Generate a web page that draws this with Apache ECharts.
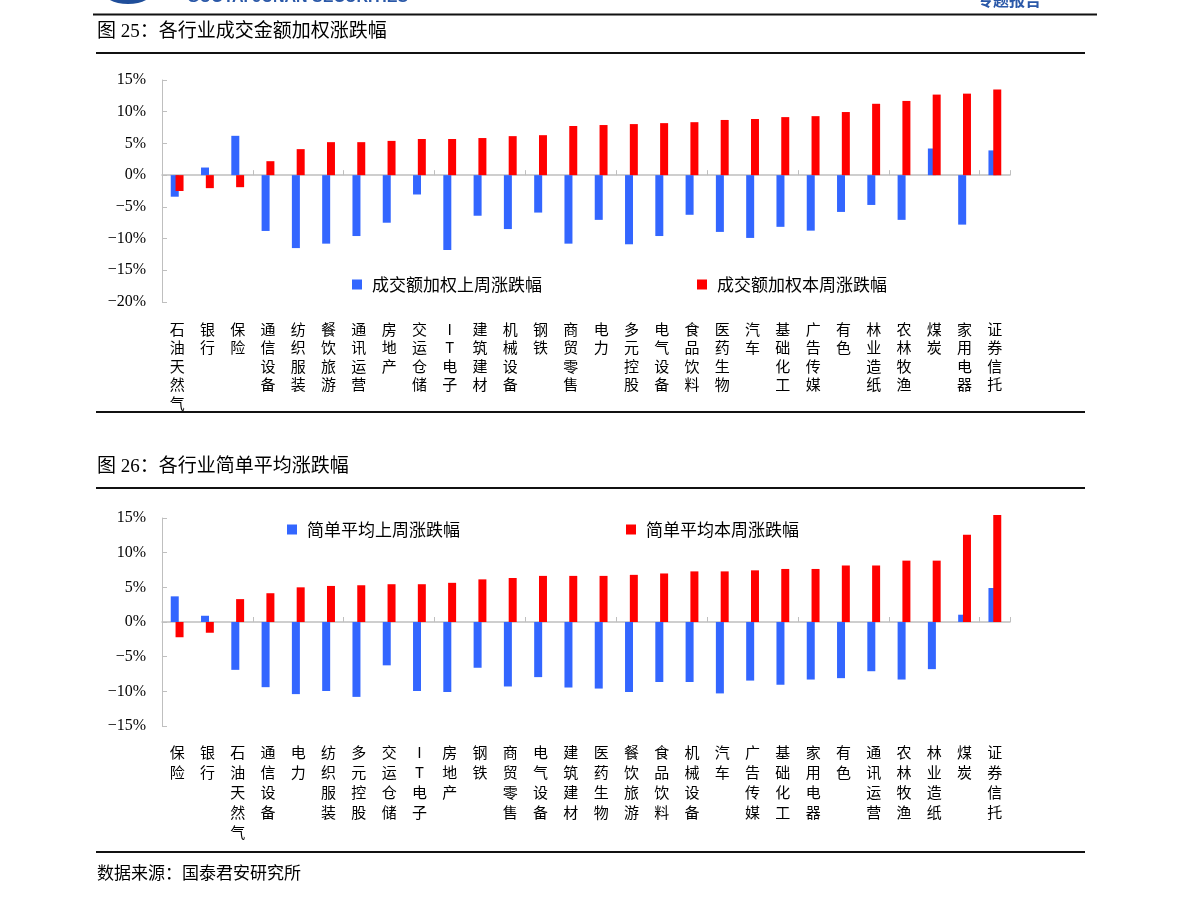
<!DOCTYPE html>
<html><head><meta charset="utf-8">
<script src="https://cdn.jsdelivr.net/npm/echarts@6/dist/echarts.min.js"></script>
<style>html,body{margin:0;padding:0;background:#fff}#c{width:1190px;height:904px}</style>
</head><body><div id="c"></div>
<script>
// ---- Chart 25 data ----
const cats1 = ['石油天然气','银行','保险','通信设备','纺织服装','餐饮旅游','通讯运营','房地产','交运仓储','IT电子','建筑建材','机械设备','钢铁','商贸零售','电力','多元控股','电气设备','食品饮料','医药生物','汽车','基础化工','广告传媒','有色','林业造纸','农林牧渔','煤炭','家用电器','证券信托'];
const lastWeek1 = [-3.4,1.2,6.2,-8.8,-11.5,-10.8,-9.6,-7.5,-3.05,-11.8,-6.4,-8.5,-5.9,-10.8,-7.05,-10.9,-9.6,-6.25,-8.95,-9.9,-8.15,-8.75,-5.8,-4.7,-7.05,4.2,-7.8,3.9];
const thisWeek1 = [-2.5,-2.05,-1.9,2.2,4.1,5.2,5.2,5.4,5.7,5.7,5.85,6.15,6.3,7.75,7.9,8.05,8.2,8.35,8.7,8.85,9.15,9.3,9.95,11.25,11.7,12.7,12.85,13.5];
const names1 = ['成交额加权上周涨跌幅','成交额加权本周涨跌幅'];
const yTicks1 = {min:-20, max:15, interval:5};

// ---- Chart 26 data ----
const cats2 = ['保险','银行','石油天然气','通信设备','电力','纺织服装','多元控股','交运仓储','IT电子','房地产','钢铁','商贸零售','电气设备','建筑建材','医药生物','餐饮旅游','食品饮料','机械设备','汽车','广告传媒','基础化工','家用电器','有色','通讯运营','农林牧渔','林业造纸','煤炭','证券信托'];
const lastWeek2 = [3.7,0.9,-6.9,-9.4,-10.4,-9.95,-10.8,-6.25,-9.95,-10.1,-6.6,-9.3,-7.95,-9.45,-9.6,-10.1,-8.65,-8.65,-10.3,-8.45,-9.05,-8.3,-8.1,-7.1,-8.3,-6.8,1.05,4.9];
const thisWeek2 = [-2.2,-1.55,3.3,4.15,5.0,5.2,5.3,5.45,5.45,5.65,6.15,6.35,6.65,6.65,6.65,6.8,7.0,7.3,7.3,7.45,7.65,7.65,8.15,8.15,8.85,8.85,12.6,15.45];
const names2 = ['简单平均上周涨跌幅','简单平均本周涨跌幅'];
const yTicks2 = {min:-15, max:15, interval:5};

const title1 = '图 25：各行业成交金额加权涨跌幅';
const title2 = '图 26：各行业简单平均涨跌幅';
const sourceText = '数据来源：国泰君安研究所';

const BLUE = '#3366FF', RED = '#FF0000', GRAY = '#BFBFBF';
const CJK = '"Noto Sans CJK SC", sans-serif';
const SERIF = '"Liberation Serif", "Noto Sans CJK SC", serif';
const yFmt = v => (v < 0 ? '−' + (-v) : v) + '%';
const vLabel = s => s.split('').join('\n');

function zeroAxis(gi, cats) {
  return {type:'category', gridIndex:gi, data:cats, boundaryGap:true,
    axisLine:{show:true, onZero:true, lineStyle:{color:GRAY, width:1.5}},
    axisTick:{show:true, inside:true, length:5, lineStyle:{color:GRAY}},
    axisLabel:{show:false}, splitLine:{show:false}};
}
function labelAxis(gi, cats, lh, margin) {
  return {type:'category', gridIndex:gi, data:cats, position:'bottom',
    axisLine:{show:false, onZero:false}, axisTick:{show:false}, splitLine:{show:false},
    axisLabel:{interval:0, formatter:vLabel, fontFamily:CJK, fontSize:15, lineHeight:lh,
      margin:margin, verticalAlign:'top', color:'#000'}};
}
function yAx(gi, t) {
  return {type:'value', gridIndex:gi, min:t.min, max:t.max, interval:t.interval,
    axisLine:{show:true, lineStyle:{color:GRAY}},
    axisTick:{show:true, inside:true, length:5, lineStyle:{color:GRAY}},
    splitLine:{show:false},
    axisLabel:{formatter:yFmt, fontFamily:SERIF, fontSize:16, color:'#000', margin:16}};
}
function bar(name, data, xi, yi, color) {
  return {type:'bar', name:name, data:data, xAxisIndex:xi, yAxisIndex:yi,
    barWidth:8, barGap:'-40%', clip:false, itemStyle:{color:color}};
}
function leg(name, left, top) {
  return {data:[name], left:left, top:top, padding:0, itemWidth:10, itemHeight:10, icon:'rect',
    textStyle:{fontFamily:CJK, fontSize:17, color:'#000', padding:[0,0,0,5]}};
}
function hline(y, x1, x2, w) {
  return {type:'line', shape:{x1:x1, y1:y, x2:x2, y2:y}, style:{stroke:'#111', lineWidth:w}};
}
function txt(x, y, s, size, font, color, weight, vAlign) {
  return {type:'text', x:x, y:y, style:{text:s, fontSize:size, fontFamily:font, fill:color||'#000',
    fontWeight:weight||'normal', verticalAlign:vAlign||'middle', align:'left'}};
}

const chart = echarts.init(document.getElementById('c'), null, {renderer:'canvas'});
chart.setOption({
  animation:false,
  backgroundColor:'#fff',
  grid:[
    {left:162, top:80, width:848, height:222},
    {left:162, top:518, width:848, height:208}
  ],
  xAxis:[zeroAxis(0,cats1), labelAxis(0,cats1,18.5,18), zeroAxis(1,cats2), labelAxis(1,cats2,20,16)],
  yAxis:[yAx(0,yTicks1), yAx(1,yTicks2)],
  legend:[leg(names1[0],352,276), leg(names1[1],697,276), leg(names2[0],287,521), leg(names2[1],626,521)],
  series:[
    bar(names1[0], lastWeek1, 0, 0, BLUE),
    bar(names1[1], thisWeek1, 0, 0, RED),
    bar(names2[0], lastWeek2, 2, 1, BLUE),
    bar(names2[1], thisWeek2, 2, 1, RED)
  ],
  graphic:[
    {type:'ellipse', shape:{cx:128, cy:-9, rx:25, ry:13}, style:{fill:'#1F4E9A'}},
    txt(187, 6, 'GUOTAI JUNAN SECURITIES', 16, '"Liberation Sans", Arial, sans-serif', '#2A58A8', 'bold', 'bottom'),
    txt(977, 8, '专题报告', 16, CJK, '#2A58A8', 'bold', 'bottom'),
    hline(14.5, 93, 1097, 2),
    txt(97, 32, title1, 19, SERIF),
    hline(53, 96, 1085, 2),
    hline(412, 96, 1085, 2),
    txt(97, 467, title2, 19, SERIF),
    hline(488, 96, 1085, 2),
    hline(852, 96, 1085, 2),
    txt(97, 873, sourceText, 17, CJK)
  ]
});
</script>
</body></html>
